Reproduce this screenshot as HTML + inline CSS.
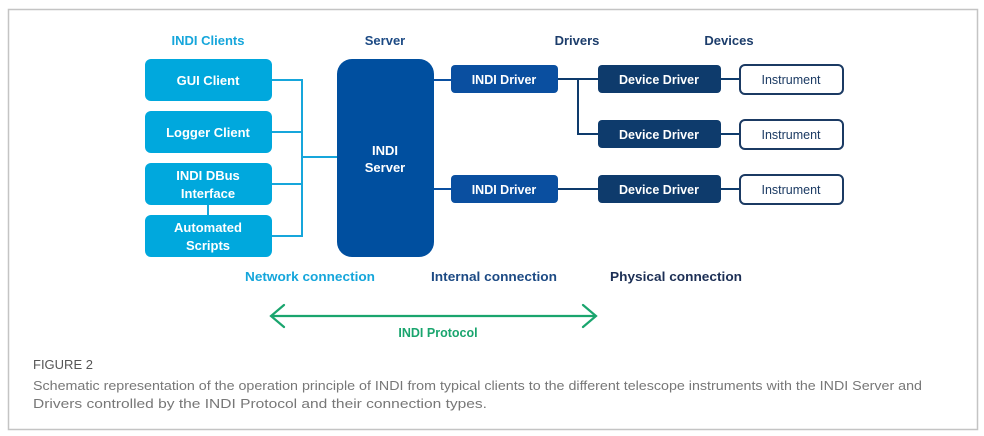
<!DOCTYPE html>
<html><head><meta charset="utf-8"><style>
html,body{margin:0;padding:0;background:#fff;}
svg{display:block;font-family:"Liberation Sans",sans-serif;}
</style></head><body>
<svg width="984" height="436" viewBox="0 0 984 436" xmlns="http://www.w3.org/2000/svg">
<rect x="8.5" y="9.5" width="969" height="420" fill="#fff" stroke="#c4c4c4" stroke-width="1.5"/>
<g font-weight="bold" font-size="13" text-anchor="middle">
<text x="208" y="45" fill="#16a6db">INDI Clients</text>
<text x="385" y="45" fill="#1c4a84">Server</text>
<text x="577" y="45" fill="#1c3d6b">Drivers</text>
<text x="729" y="45" fill="#1c3d6b">Devices</text>
</g>
<!-- connectors -->
<g stroke="#16a6db" stroke-width="2" fill="none">
<path d="M272 80H302V236H272M272 132H302M272 184H302M302 157H337"/>
<path d="M208 205V215"/>
</g>
<g stroke="#0a4fa0" stroke-width="2" fill="none">
<path d="M434 80H451M434 189H451"/>
</g>
<g stroke="#0e3b6c" stroke-width="2" fill="none">
<path d="M558 79H598M578 79V134H598M558 189H598M721 79H740M721 134H740M721 189H740"/>
</g>
<!-- client boxes -->
<g fill="#00a8dd">
<rect x="145" y="59" width="127" height="42" rx="6"/>
<rect x="145" y="111" width="127" height="42" rx="6"/>
<rect x="145" y="163" width="127" height="42" rx="6"/>
<rect x="145" y="215" width="127" height="42" rx="6"/>
</g>
<g fill="#fff" font-weight="bold" font-size="13" text-anchor="middle">
<text x="208" y="85">GUI Client</text>
<text x="208" y="137">Logger Client</text>
<text x="208" y="180">INDI DBus</text>
<text x="208" y="198">Interface</text>
<text x="208" y="232">Automated</text>
<text x="208" y="250">Scripts</text>
</g>
<rect x="337" y="59" width="97" height="198" rx="15" fill="#004f9f"/>
<g fill="#fff" font-weight="bold" font-size="13" text-anchor="middle">
<text x="385" y="155">INDI</text>
<text x="385" y="172">Server</text>
</g>
<g fill="#0a4fa0">
<rect x="451" y="65" width="107" height="28" rx="4"/>
<rect x="451" y="175" width="107" height="28" rx="4"/>
</g>
<g fill="#0e3b6c">
<rect x="598" y="65" width="123" height="28" rx="4"/>
<rect x="598" y="120" width="123" height="28" rx="4"/>
<rect x="598" y="175" width="123" height="28" rx="4"/>
</g>
<g fill="#fff" font-weight="bold" font-size="12.5" text-anchor="middle">
<text x="504" y="84">INDI Driver</text>
<text x="504" y="194">INDI Driver</text>
<text x="659" y="84">Device Driver</text>
<text x="659" y="139">Device Driver</text>
<text x="659" y="194">Device Driver</text>
</g>
<g fill="#fff" stroke="#1b3a63" stroke-width="2">
<rect x="740" y="65" width="103" height="29" rx="5"/>
<rect x="740" y="120" width="103" height="29" rx="5"/>
<rect x="740" y="175" width="103" height="29" rx="5"/>
</g>
<g fill="#1b3a63" font-size="12.5" text-anchor="middle">
<text x="791" y="84">Instrument</text>
<text x="791" y="139">Instrument</text>
<text x="791" y="194">Instrument</text>
</g>
<g font-weight="bold" font-size="12.5">
<text x="245" y="281" fill="#16a6db" textLength="130" lengthAdjust="spacingAndGlyphs">Network connection</text>
<text x="431" y="281" fill="#1c4a84" textLength="126" lengthAdjust="spacingAndGlyphs">Internal connection</text>
<text x="610" y="281" fill="#1c2f55" textLength="132" lengthAdjust="spacingAndGlyphs">Physical connection</text>
</g>
<g stroke="#1aa56e" stroke-width="2.2" fill="none" stroke-linecap="round">
<path d="M271 316H596M284 305L271 316L284 327M583 305L596 316L583 327"/>
</g>
<text x="438" y="337" fill="#1aa56e" font-weight="bold" font-size="12.5" text-anchor="middle">INDI Protocol</text>
<text x="33" y="369" fill="#555" font-size="13">FIGURE 2</text>
<g fill="#777" font-size="13">
<text x="33" y="390" textLength="889" lengthAdjust="spacingAndGlyphs">Schematic representation of the operation principle of INDI from typical clients to the different telescope instruments with the INDI Server and</text>
<text x="33" y="408" textLength="454" lengthAdjust="spacingAndGlyphs">Drivers controlled by the INDI Protocol and their connection types.</text>
</g>
</svg>
</body></html>
